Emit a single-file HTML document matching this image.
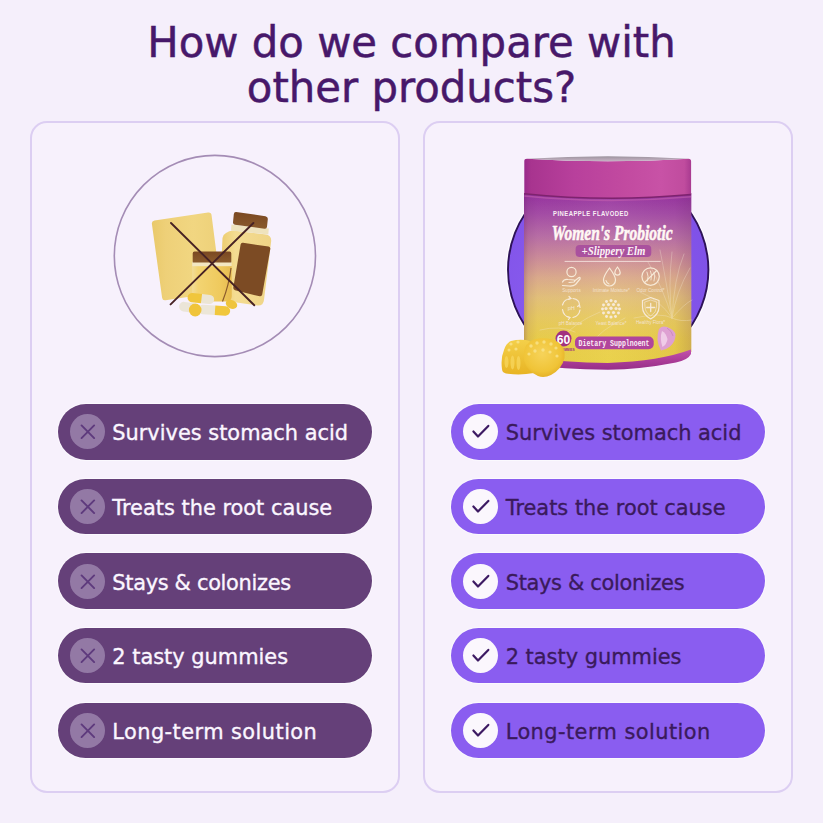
<!DOCTYPE html>
<html>
<head>
<meta charset="utf-8">
<style>
html,body{margin:0;padding:0;}
body{width:823px;height:823px;overflow:hidden;background:#f5effb;position:relative;font-family:"DejaVu Sans","Liberation Sans",sans-serif;}
.h{position:absolute;left:0;width:823px;text-align:center;color:#47186a;-webkit-text-stroke:0.5px #47186a;font-size:41.8px;line-height:46px;white-space:nowrap;}
.card{position:absolute;top:121px;width:366px;height:668px;border:2px solid #dccef2;border-radius:17px;background:#f7f1fc;}
.pill{position:absolute;height:55.5px;width:314px;border-radius:28px;box-shadow:0 0 0 1px rgba(255,255,255,0.55);}
.pill .ic{position:absolute;left:12.2px;top:10.4px;width:35px;height:35px;border-radius:50%;}
.pill .t{position:absolute;left:54.4px;top:2.3px;line-height:55.5px;font-size:20.9px;white-space:nowrap;-webkit-text-stroke:0.35px currentColor;}
.L .pill{background:#654079;}
.L .ic{background:#9379a5;}
.L .t{color:#fbf6ff;}
.R .pill{background:#8a5df0;}
.R .ic{background:#fbf7fd;}
.R .t{color:#3a1a5c;}
</style>
</head>
<body>
<div class="h" style="top:19.5px">How do we compare with</div>
<div class="h" style="top:65.3px">other products?</div>

<div class="card L" style="left:29.7px">
</div>
<div class="card R" style="left:422.8px">
</div>
<svg class="art" width="823" height="823" viewBox="0 0 823 823" style="position:absolute;left:0;top:0">
<defs>
<linearGradient id="pouchG" x1="0" y1="0" x2="1" y2="0">
<stop offset="0" stop-color="#e9c96a"/><stop offset="0.2" stop-color="#eed078"/><stop offset="0.6" stop-color="#f1d681"/><stop offset="1" stop-color="#edd078"/>
</linearGradient>
<linearGradient id="botG" x1="0" y1="0" x2="1" y2="0">
<stop offset="0" stop-color="#eccb6c"/><stop offset="0.3" stop-color="#f4dc92"/><stop offset="1" stop-color="#efd486"/>
</linearGradient>
<linearGradient id="jarG" x1="0" y1="0" x2="1" y2="0">
<stop offset="0" stop-color="#f2dc98"/><stop offset="0.15" stop-color="#f3d472"/><stop offset="0.7" stop-color="#efca5e"/><stop offset="1" stop-color="#e6bb50"/>
</linearGradient>
<linearGradient id="capG" x1="0" y1="0" x2="0" y2="1">
<stop offset="0" stop-color="#7a4822"/><stop offset="1" stop-color="#8a5a2c"/>
</linearGradient>
</defs>
<circle cx="214.9" cy="256" r="100.6" fill="none" stroke="#a48cb5" stroke-width="1.6"/>
<!-- pouch -->
<path d="M154.5 220.4 L208 212.6 Q211.3 212.2 211.6 215.4 L221 289 Q221.3 292 218.3 292.5 L165.5 300.3 Q162.5 300.7 162.1 297.7 L151.9 224 Q151.5 220.9 154.5 220.4 Z" fill="url(#pouchG)"/>
<!-- bottle -->
<path d="M226 233 Q229 230.5 233 230.5 L266 234.5 Q271.5 235.5 271.2 241 L264 300 Q263.3 306 257.5 305.5 L226 301 Q219.5 300 220 294 L222.5 238 Q223 234.5 226 233 Z" fill="url(#botG)"/>
<path d="M231.5 224.5 L268.8 228.6 L268.3 234.4 L231 230.6 Z" fill="#efe3bd"/>
<path d="M236.2 212 L265.5 216.2 Q268 216.7 267.8 219.2 L267 226.8 Q266.8 229 264.5 228.7 L235 224.8 Q232.8 224.5 233 222.2 L233.8 214.2 Q234 211.8 236.2 212 Z" fill="url(#capG)"/>
<path d="M243 242.8 L268.5 246.6 Q270.6 247 270.3 249 L262.2 294.6 Q261.8 296.7 259.7 296.3 L235 290.2 Q233 289.7 233.3 287.6 L240.6 244.6 Q241 242.5 243 242.8 Z" fill="#7c4b24"/>
<!-- middle jar -->
<path d="M192.2 266 L231.6 266 L231.8 296 Q231.8 301.6 226 301.6 L198 301.6 Q192.2 301.6 192.2 296 Z" fill="url(#jarG)"/>
<path d="M231 268 Q229 285 222.5 301.5" stroke="#8a5a2c" stroke-width="1.2" fill="none"/>
<rect x="192.2" y="261.6" width="39.4" height="4.6" fill="#f3e7c2"/>
<path d="M194.5 251.6 L229.5 251.6 Q231.3 251.6 231.3 253.4 L231.3 262.5 L192.7 262.5 L192.7 253.4 Q192.7 251.6 194.5 251.6 Z" fill="url(#capG)"/>
<!-- capsules -->
<g>
<path d="M179 307.5 a4.8 4.8 0 0 1 4.8-4.8 h10 v9.6 h-10 a4.8 4.8 0 0 1 -4.8-4.8 Z" fill="#ebe5d8" transform="rotate(8 190 307.5)"/>
<path d="M187.5 298.5 a4.6 4.6 0 0 1 4.6-4.6 h9.5 v9.2 h-9.5 a4.6 4.6 0 0 1 -4.6-4.6 Z" fill="#f0c63c" transform="rotate(6 200 298.5)"/>
<path d="M201.6 293.9 h8 a4.6 4.6 0 0 1 0 9.2 h-8 Z" fill="#ece5d4" transform="rotate(6 200 298.5)"/>
<path d="M203 305.6 h12 v9.4 h-12 a4.7 4.7 0 0 1 0-9.4 Z" fill="#ece6d8" transform="rotate(4 215 310.3)"/>
<path d="M215 305.6 h10.5 a4.7 4.7 0 0 1 0 9.4 h-10.5 Z" fill="#f1c73c" transform="rotate(4 215 310.3)"/>
<ellipse cx="195.2" cy="310" rx="6.3" ry="6.4" fill="#f0c43a"/>
<ellipse cx="231.5" cy="304.3" rx="6" ry="4.3" fill="#efc43c" transform="rotate(25 231.5 304.3)"/>
</g>
<!-- X -->
<path d="M171 223 L254.3 305.3 M253.4 223 L170.6 304.4" stroke="#472224" stroke-width="1.9" stroke-linecap="round" fill="none"/>
</svg>

<div class="L">
<div class="pill" style="left:57.9px;top:404.1px"><div class="ic"><svg width="35" height="35" viewBox="0 0 35 35"><path d="M11.55 11.45L24.15 24.05M24.15 11.45L11.55 24.05" stroke="#5e3a7d" stroke-width="1.9" stroke-linecap="round" fill="none"/></svg></div><div class="t">Survives stomach acid</div></div>
<div class="pill" style="left:57.9px;top:478.7px"><div class="ic"><svg width="35" height="35" viewBox="0 0 35 35"><path d="M11.55 11.45L24.15 24.05M24.15 11.45L11.55 24.05" stroke="#5e3a7d" stroke-width="1.9" stroke-linecap="round" fill="none"/></svg></div><div class="t">Treats the root cause</div></div>
<div class="pill" style="left:57.9px;top:553.3px"><div class="ic"><svg width="35" height="35" viewBox="0 0 35 35"><path d="M11.55 11.45L24.15 24.05M24.15 11.45L11.55 24.05" stroke="#5e3a7d" stroke-width="1.9" stroke-linecap="round" fill="none"/></svg></div><div class="t" style="letter-spacing:-0.3px">Stays &amp; colonizes</div></div>
<div class="pill" style="left:57.9px;top:627.9px"><div class="ic"><svg width="35" height="35" viewBox="0 0 35 35"><path d="M11.55 11.45L24.15 24.05M24.15 11.45L11.55 24.05" stroke="#5e3a7d" stroke-width="1.9" stroke-linecap="round" fill="none"/></svg></div><div class="t">2 tasty gummies</div></div>
<div class="pill" style="left:57.9px;top:702.5px"><div class="ic"><svg width="35" height="35" viewBox="0 0 35 35"><path d="M11.55 11.45L24.15 24.05M24.15 11.45L11.55 24.05" stroke="#5e3a7d" stroke-width="1.9" stroke-linecap="round" fill="none"/></svg></div><div class="t" style="letter-spacing:0.44px">Long-term solution</div></div>
</div>
<svg class="art" width="823" height="823" viewBox="0 0 823 823" style="position:absolute;left:0;top:0">
<defs>
<radialGradient id="vioG" cx="0.4" cy="0.6" r="0.7">
<stop offset="0" stop-color="#8c5ff1"/><stop offset="1" stop-color="#7e50e6"/>
</radialGradient>
<linearGradient id="lidG" x1="0" y1="0" x2="1" y2="0">
<stop offset="0" stop-color="#98298a"/><stop offset="0.04" stop-color="#a8348f"/><stop offset="0.3" stop-color="#b8409c"/><stop offset="0.6" stop-color="#c24aa0"/><stop offset="0.82" stop-color="#c852a6"/><stop offset="0.96" stop-color="#c04c9e"/><stop offset="1" stop-color="#a83a90"/>
</linearGradient>
<linearGradient id="bodyG" x1="0" y1="196" x2="0" y2="368" gradientUnits="userSpaceOnUse">
<stop offset="0" stop-color="#9836a0"/>
<stop offset="0.1" stop-color="#a44ca6"/>
<stop offset="0.23" stop-color="#b86ea6"/>
<stop offset="0.355" stop-color="#cc8c9a"/>
<stop offset="0.475" stop-color="#dcac8c"/>
<stop offset="0.59" stop-color="#e4c27a"/>
<stop offset="0.71" stop-color="#e8cb60"/>
<stop offset="0.83" stop-color="#eacf4a"/>
<stop offset="1" stop-color="#e8d044"/>
</linearGradient>
<linearGradient id="shadeG" x1="0" y1="0" x2="1" y2="0">
<stop offset="0" stop-color="#5a1a5a" stop-opacity="0.26"/><stop offset="0.025" stop-color="#5a1a5a" stop-opacity="0.1"/><stop offset="0.08" stop-color="#5a1a5a" stop-opacity="0.02"/><stop offset="0.5" stop-color="#ffffff" stop-opacity="0.04"/><stop offset="0.9" stop-color="#5a1a5a" stop-opacity="0.04"/><stop offset="1" stop-color="#5a1a5a" stop-opacity="0.18"/>
</linearGradient>
<linearGradient id="bandG" x1="0" y1="0" x2="0" y2="1"><stop offset="0" stop-color="#c253ac"/><stop offset="0.5" stop-color="#ad3e99"/><stop offset="1" stop-color="#962e88"/></linearGradient>
<linearGradient id="topG" x1="0" y1="0" x2="0" y2="1"><stop offset="0" stop-color="#9a929c"/><stop offset="1" stop-color="#c8b4c6"/></linearGradient>
<linearGradient id="gumG" x1="0" y1="0" x2="0" y2="1">
<stop offset="0" stop-color="#f4d04a"/><stop offset="1" stop-color="#e8b424"/>
</linearGradient>
<radialGradient id="gumR" cx="0.45" cy="0.4" r="0.65">
<stop offset="0" stop-color="#f6d35a"/><stop offset="0.7" stop-color="#f0c437"/><stop offset="1" stop-color="#e2ac22"/>
</radialGradient>
</defs>
<!-- violet circle -->
<clipPath id="vclip"><rect x="400" y="150" width="400" height="200"/></clipPath>
<circle cx="608.2" cy="269.8" r="101.6" fill="none" stroke="#ffffff" stroke-width="1.6" opacity="0.7" clip-path="url(#vclip)"/>
<circle cx="608.2" cy="269.8" r="100.2" fill="url(#vioG)" stroke="#2e1258" stroke-width="1.9" clip-path="url(#vclip)"/>
<!-- body -->
<path d="M524 193 L691.3 193 L691.3 352 Q660 362 608 368 Q560 366 524 360 Z" fill="url(#bodyG)"/>
<path d="M524 193 L691.3 193 L691.3 352 Q660 362 608 368 Q560 366 524 360 Z" fill="url(#shadeG)"/>
<!-- bottom band -->
<path d="M524.5 357 Q565 362.5 608 363 Q660 361 691 349.5 L691 354 Q688 360 676 362.5 Q640 369.5 608 369.8 Q560 369 533 365 Q524.5 363.5 524.5 360 Z" fill="url(#bandG)"/>
<!-- lid -->
<path d="M524.3 161 Q524.3 158.7 527 158.7 Q608 163.8 688.5 158.7 Q691.1 158.7 691.1 161.3 L691.1 194.5 Q608 202.3 524.3 193.7 Z" fill="url(#lidG)"/>
<path d="M527 158.7 Q608 153.6 688.5 158.7 Q608 163.8 527 158.7 Z" fill="url(#topG)"/>
<path d="M524.3 193.7 Q608 202.3 691.1 194.5" stroke="#7e236e" stroke-width="1.4" fill="none"/>
<path d="M524.3 196 Q608 204.5 691.1 196.8" stroke="#c862ae" stroke-width="1.6" fill="none" opacity="0.55"/>
<!-- text -->
<text x="553" y="215.8" font-family="Liberation Sans" font-weight="bold" font-size="5.3" fill="#f8eef4" textLength="67.2" lengthAdjust="spacing" transform="translate(553 215.8) scale(1.12 1.3) translate(-553 -215.8)">PINEAPPLE FLAVODED</text>
<text x="551.8" y="240" font-family="Liberation Serif" font-weight="bold" font-style="italic" font-size="21.5" fill="#fff8f4" stroke="#fff8f4" stroke-width="0.6" textLength="120.8" lengthAdjust="spacingAndGlyphs">Women's Probiotic</text>
<rect x="575.6" y="245" width="75.7" height="12" rx="4" fill="#aa519e"/>
<text x="581.6" y="254.8" font-family="Liberation Serif" font-weight="bold" font-style="italic" font-size="12.3" fill="#fdf3f5" textLength="63.8" lengthAdjust="spacingAndGlyphs">+Slippery Elm</text>
<path d="M564.6 261.4 L660.7 261.4" stroke="#f3e2dc" stroke-width="0.9"/>
<!-- icons -->
<g fill="none" stroke="#f6ead6" stroke-width="0.7" opacity="0.45" stroke-linecap="round">
<path d="M672 318 Q664 290 648 262 M672 318 Q668 286 672 252 M672 318 Q676 292 690 268 M672 318 Q660 300 640 292 M672 318 Q684 304 692 300 M672 318 Q662 312 634 318 M672 318 Q680 322 692 320 M672 318 Q666 280 660 250 M672 318 Q674 278 684 254"/>
<path d="M560 340 Q575 322 600 312 M590 345 Q600 330 625 318 M540 330 Q560 325 575 332"/>
</g>
<g fill="none" stroke="#f7ead8" stroke-width="1.2" stroke-linecap="round" stroke-linejoin="round">
<circle cx="571.5" cy="272" r="4.6"/>
<path d="M562.5 282 Q564 279 568 279.5 L574 280 Q576 280.5 574 282 L569 282.5 M574.5 281 L579 277.5 Q580.5 277 580 279 L575.5 284.5 Q573 286.5 569 286 L562.5 285.5"/>
<path d="M609.5 268 Q603.5 276 603.5 280 A6 6 0 0 0 615.5 280 Q615.5 276 609.5 268 Z"/>
<path d="M617.5 267 Q614.8 270.6 614.8 272.4 A2.7 2.7 0 0 0 620.2 272.4 Q620.2 270.6 617.5 267 Z"/>
<path d="M606 280.5 Q606.5 283 609 284"/>
<circle cx="650.6" cy="276.6" r="8.7"/>
<path d="M644.5 282.7 L656.7 270.5"/>
<path d="M647 272 Q649 276 647.5 281 M650.5 271 Q652.5 275 651 280 M654 273 Q655.5 277 654 281" stroke-width="0.9"/>
<path d="M571 298.5 Q564 299 562.5 305 M579.5 305 Q579.5 299.5 573 298.5 M562.5 309.5 Q563.5 316.5 570 317.5 M573 317.5 Q579 316 580 310"/>
<path d="M568.5 299.5 L571 298.5 L569 296.5 M580 307.5 L579.5 305 L577.5 306.5 M567 316.5 L570 317.5 L568.5 319.5"/>
<path d="M642.5 300.5 L650.7 297.5 L659 300.5 L659 307 Q659 314.5 650.7 319 Q642.5 314.5 642.5 307 Z"/>
<path d="M645 302 L650.7 300 L656.5 302 L656.5 307 Q656.5 312.5 650.7 316 Q645 312.5 645 307 Z" stroke-width="0.6"/>
<path d="M650.7 303.5 L650.7 311.5 M646.7 307.5 L654.7 307.5" stroke-width="1.3"/>
</g>
<text x="571.2" y="310" font-family="Liberation Sans" font-size="5.5" fill="#f7ead8" text-anchor="middle">pH</text>
<g fill="#f7ead8">
<circle cx="611" cy="300.5" r="1.55"/><circle cx="606.5" cy="301.5" r="1.45"/><circle cx="615.5" cy="301.5" r="1.45"/>
<circle cx="603.5" cy="305" r="1.45"/><circle cx="608.5" cy="304.5" r="1.6"/><circle cx="613.5" cy="304.5" r="1.6"/><circle cx="618.5" cy="305" r="1.45"/>
<circle cx="602.5" cy="309" r="1.45"/><circle cx="606" cy="308.5" r="1.6"/><circle cx="611" cy="308.2" r="1.7"/><circle cx="616" cy="308.5" r="1.6"/><circle cx="619.5" cy="309" r="1.45"/>
<circle cx="603.5" cy="313" r="1.45"/><circle cx="608.5" cy="312.5" r="1.6"/><circle cx="613.5" cy="312.5" r="1.6"/><circle cx="618.5" cy="313" r="1.45"/>
<circle cx="606.5" cy="316.5" r="1.45"/><circle cx="611" cy="317" r="1.55"/><circle cx="615.5" cy="316.5" r="1.45"/>
</g>
<g font-family="Liberation Sans" font-size="4.6" fill="#f6e6da" text-anchor="middle" opacity="0.9">
<text x="571.5" y="292.3">Supports</text>
<text x="611.3" y="292.3">Intimate Moisture*</text>
<text x="650.6" y="291.8">Odor Control*</text>
<text x="570.5" y="324.6">pH Balance</text>
<text x="611" y="324.6">Yeast Balance*</text>
<text x="650.5" y="324">Healthy Flora*</text>
</g>
<!-- bottom labels -->
<rect x="575" y="336.6" width="78.7" height="12.6" rx="5" fill="#b0459c"/>
<text x="578.5" y="346.2" font-family="Liberation Mono" font-weight="bold" font-size="9" fill="#fbeef6" textLength="71" lengthAdjust="spacingAndGlyphs">Dietary Supplnoent</text>
<circle cx="563.5" cy="338.6" r="8" fill="#a2327f"/>
<text x="563.5" y="344.4" font-family="Liberation Sans" font-weight="bold" font-size="13" fill="#ffffff" text-anchor="middle" textLength="13.5" lengthAdjust="spacingAndGlyphs">60</text>
<text x="567" y="350.6" font-family="Liberation Sans" font-weight="bold" font-size="3.2" fill="#a2327f" text-anchor="middle">GUMMIES</text>
<!-- flower -->
<path d="M661 350.5 Q655 340 659 329 Q662 325.5 667 327 Q674 329.5 675.5 334 Q676 341 670 346.5 Q666 350 661 350.5 Z" fill="#dea0d2"/>
<path d="M662.5 347 Q659.5 338 662 331 Q666 333 667.5 339 Q667 344 662.5 347 Z" fill="#f0cce8"/>
<path d="M667 328 Q672 331 673 336" stroke="#c884bc" stroke-width="0.8" fill="none"/>
<!-- gummies -->
<path d="M502 369 Q500.5 358 504 350 Q506 343 511 341 Q518 339 526 340 Q532 341 534 347 L534 373 Q520 375.5 506 373.5 Q502 372.5 502 369 Z" fill="url(#gumG)"/>
<g fill="#f8d75e" opacity="0.75"><ellipse cx="506.5" cy="362" rx="2" ry="6"/><ellipse cx="512.5" cy="362.5" rx="2" ry="7"/><ellipse cx="518.5" cy="363" rx="2" ry="7"/></g>
<path d="M524.5 349 Q528 339 540 338.3 Q551 337.5 558 342 Q566 348 564.5 358 Q562 369 551 375 Q544 378.5 538 376 Q527 371 524 361 Q523 354 524.5 349 Z" fill="url(#gumR)"/>
<g fill="#fbe896" opacity="0.7">
<circle cx="531" cy="346" r="1.7"/><circle cx="537" cy="343" r="1.7"/><circle cx="544" cy="342" r="1.7"/><circle cx="551" cy="344" r="1.7"/><circle cx="556" cy="348" r="1.6"/>
<circle cx="529" cy="354" r="1.6"/><circle cx="535" cy="351" r="1.7"/><circle cx="543" cy="350" r="1.7"/><circle cx="550" cy="352" r="1.6"/><circle cx="557" cy="356" r="1.6"/>
<circle cx="511" cy="344" r="1.6"/><circle cx="518" cy="342" r="1.6"/><circle cx="509" cy="350" r="1.5"/><circle cx="516" cy="349" r="1.6"/>
</g>
</svg>

<div class="R">
<div class="pill" style="left:451.3px;top:404.1px"><div class="ic"><svg width="35" height="35" viewBox="0 0 35 35"><path d="M10.4 17.5L15 22.5L25.3 11.9" stroke="#3d1a63" stroke-width="2.2" stroke-linecap="round" stroke-linejoin="round" fill="none"/></svg></div><div class="t">Survives stomach acid</div></div>
<div class="pill" style="left:451.3px;top:478.7px"><div class="ic"><svg width="35" height="35" viewBox="0 0 35 35"><path d="M10.4 17.5L15 22.5L25.3 11.9" stroke="#3d1a63" stroke-width="2.2" stroke-linecap="round" stroke-linejoin="round" fill="none"/></svg></div><div class="t">Treats the root cause</div></div>
<div class="pill" style="left:451.3px;top:553.3px"><div class="ic"><svg width="35" height="35" viewBox="0 0 35 35"><path d="M10.4 17.5L15 22.5L25.3 11.9" stroke="#3d1a63" stroke-width="2.2" stroke-linecap="round" stroke-linejoin="round" fill="none"/></svg></div><div class="t" style="letter-spacing:-0.3px">Stays &amp; colonizes</div></div>
<div class="pill" style="left:451.3px;top:627.9px"><div class="ic"><svg width="35" height="35" viewBox="0 0 35 35"><path d="M10.4 17.5L15 22.5L25.3 11.9" stroke="#3d1a63" stroke-width="2.2" stroke-linecap="round" stroke-linejoin="round" fill="none"/></svg></div><div class="t">2 tasty gummies</div></div>
<div class="pill" style="left:451.3px;top:702.5px"><div class="ic"><svg width="35" height="35" viewBox="0 0 35 35"><path d="M10.4 17.5L15 22.5L25.3 11.9" stroke="#3d1a63" stroke-width="2.2" stroke-linecap="round" stroke-linejoin="round" fill="none"/></svg></div><div class="t" style="letter-spacing:0.44px">Long-term solution</div></div>
</div>
</body>
</html>
